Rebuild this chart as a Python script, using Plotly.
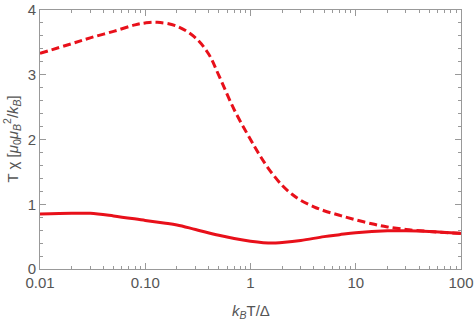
import plotly.graph_objects as go

# k_B T / Delta sample points
x_solid = [0.01, 0.02, 0.03, 0.05, 0.1, 0.15, 0.2, 0.3, 0.5, 0.7, 1.0, 1.6, 2.0, 3.0, 5.0, 7.0, 10.0, 20.0, 30.0, 50.0, 100.0]
y_solid = [0.85, 0.86, 0.86, 0.82, 0.75, 0.71, 0.68, 0.61, 0.52, 0.47, 0.43, 0.40, 0.41, 0.44, 0.50, 0.53, 0.56, 0.59, 0.59, 0.58, 0.55]

x_dash = [0.01, 0.02, 0.03, 0.05, 0.08, 0.1, 0.13, 0.2, 0.3, 0.4, 0.5, 0.7, 1.0, 1.2, 1.5, 2.0, 2.5, 3.0, 4.0, 5.0, 7.0, 10.0, 15.0, 20.0, 30.0, 50.0, 100.0]
y_dash = [3.33, 3.48, 3.57, 3.67, 3.77, 3.80, 3.81, 3.75, 3.57, 3.32, 2.99, 2.46, 2.0, 1.78, 1.54, 1.29, 1.15, 1.06, 0.96, 0.90, 0.83, 0.76, 0.69, 0.65, 0.61, 0.58, 0.55]

x_tickvals = [0.01, 0.1, 1, 10, 100]
x_ticktext = ["0.01", "0.10", "1", "10", "100"]
x_minor = [m * 10**e for e in range(-2, 2) for m in range(2, 10)]
y_tickvals = [0, 1, 2, 3, 4]
y_minor = [i * 0.2 for i in range(21) if i % 5 != 0]

x_title = "<i>k<sub>B</sub></i>T/Δ"
y_title = "T χ [<i>μ</i><sub>0</sub><i>μ</i><sub><i>B</i></sub><sup>2</sup>/<i>k<sub>B</sub></i>]"

RED = "#e8101a"
GRAY = "#555555"
FRAME = "#999999"

fig = go.Figure()
fig.add_trace(go.Scatter(x=x_dash, y=y_dash, mode="lines",
                         line=dict(color=RED, width=3, dash="8px,4px", shape="spline", smoothing=1.0)))
fig.add_trace(go.Scatter(x=x_solid, y=y_solid, mode="lines",
                         line=dict(color=RED, width=3, shape="spline", smoothing=1.0)))

font = dict(family="Arial, Liberation Sans, sans-serif", size=15, color=GRAY)

fig.update_layout(
    width=474, height=321,
    margin=dict(l=40, r=13, t=10, b=52),
    paper_bgcolor="white", plot_bgcolor="white",
    showlegend=False,
    font=font,
    xaxis=dict(
        type="log", range=[-2, 2], automargin=False,
        tickmode="array", tickvals=x_tickvals, ticktext=x_ticktext,
        ticks="inside", ticklen=6, tickwidth=1, tickcolor=FRAME,
        minor=dict(tickmode="array", tickvals=x_minor, ticks="inside", ticklen=3, tickcolor=FRAME, showgrid=False),
        showgrid=False, zeroline=False,
        showline=True, linecolor=FRAME, linewidth=1, mirror="ticks",
        tickfont=font,
    ),
    yaxis=dict(
        range=[0, 4], automargin=False,
        tickmode="array", tickvals=y_tickvals,
        ticks="inside", ticklen=6, tickwidth=1, tickcolor=FRAME,
        minor=dict(tickmode="array", tickvals=y_minor, ticks="inside", ticklen=3, tickcolor=FRAME, showgrid=False),
        showgrid=False, zeroline=False,
        showline=True, linecolor=FRAME, linewidth=1, mirror="ticks",
        tickfont=font,
    ),
    annotations=[
        dict(text=x_title, xref="paper", yref="paper", x=0.5, y=0, yshift=-42,
             xanchor="center", yanchor="middle", showarrow=False, font=font),
        dict(text=y_title, xref="paper", yref="paper", x=0, y=0.5, xshift=-28,
             xanchor="center", yanchor="middle", showarrow=False, textangle=-90, font=font),
    ],
)

fig.write_html("out.html")
